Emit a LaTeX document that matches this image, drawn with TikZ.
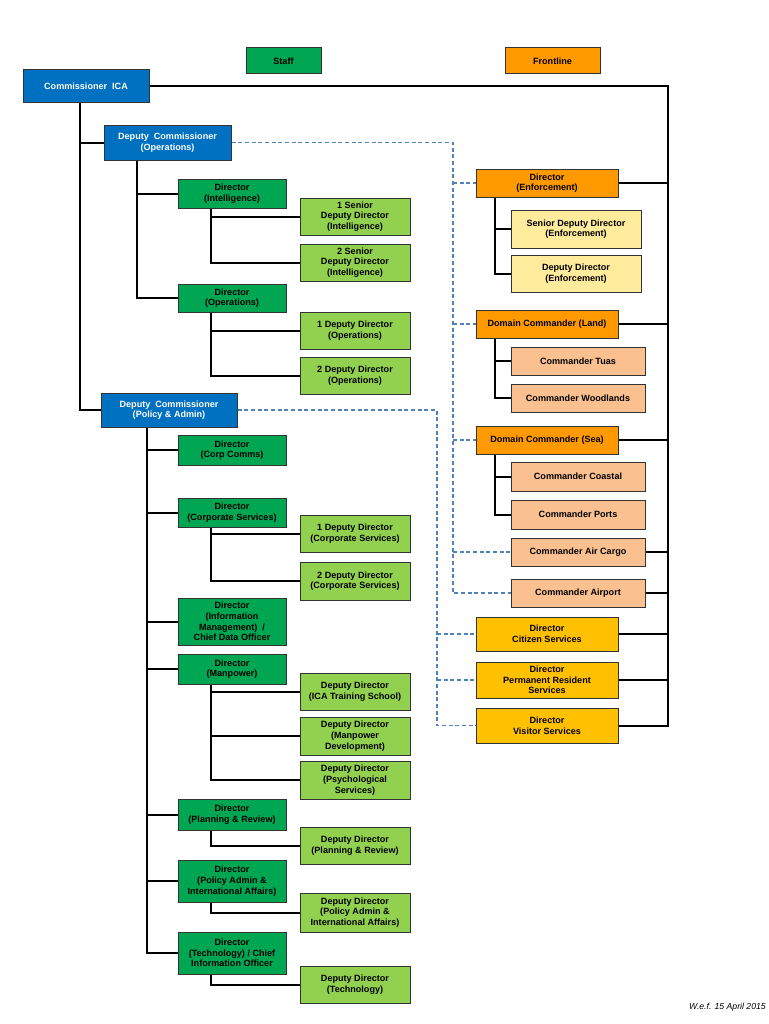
\documentclass[tikz,border=0pt]{standalone}
\usepackage{fontspec}
\setmainfont{Liberation Sans}
\definecolor{cblue}{HTML}{0070C0}
\definecolor{dgreen}{HTML}{00A651}
\definecolor{lgreen}{HTML}{92D050}
\definecolor{orng}{HTML}{FF9900}
\definecolor{lyel}{HTML}{FFEB9C}
\definecolor{peach}{HTML}{FAC090}
\definecolor{gold}{HTML}{FFC000}
\definecolor{dashc}{HTML}{4F81BD}
\newcommand\bx[7]{\node[box,#6,minimum width={(#4-#2)*0.75pt},minimum height={(#5-#3)*0.75pt}] (#1) at ({(#2+#4)/2},{(#3+#5)/2}) {#7};}
\begin{document}
\begin{tikzpicture}[x=0.75pt,y=-0.75pt,
  box/.style={draw=black!80,line width=0.75pt,align=center,inner sep=1pt,font=\fontsize{6.8}{8}\selectfont\bfseries},
  bl/.style={fill=cblue,text=white},
  dg/.style={fill=dgreen},
  lg/.style={fill=lgreen},
  og/.style={fill=orng},
  ly/.style={fill=lyel},
  pc/.style={fill=peach},
  gd/.style={fill=gold},
  ln/.style={line width=1.5pt,black},
  dl/.style={dashc,line width=0.9pt,dash pattern=on 3pt off 2pt}]
\useasboundingbox[fill=white] (0,0) rectangle (768,1024);
% legend
\bx{staff}{246}{48}{321}{74}{dg}{Staff}
\bx{front}{505}{48}{600}{74}{og}{Frontline}
% top
\bx{com}{23}{70}{149}{102}{bl}{Commissioner\ \ ICA}
\bx{dco}{104}{125}{231}{160}{bl}{Deputy\ \ Commissioner\\(Operations)}
\bx{dcp}{101}{393}{237}{427}{bl}{Deputy\ \ Commissioner\\(Policy \& Admin)}
% operations
\bx{din}{178}{179}{286}{208}{dg}{Director\\(Intelligence)}
\bx{sdd1}{300}{198}{410}{235}{lg}{1 Senior\\Deputy Director\\(Intelligence)}
\bx{sdd2}{300}{244}{410}{281}{lg}{2 Senior\\Deputy Director\\(Intelligence)}
\bx{dop}{178}{284}{286}{312}{dg}{Director\\(Operations)}
\bx{ddo1}{300}{312}{410}{349}{lg}{1 Deputy Director\\(Operations)}
\bx{ddo2}{300}{357}{410}{394}{lg}{2 Deputy Director\\(Operations)}
% policy
\bx{dcc}{178}{435}{286}{465}{dg}{Director\\(Corp Comms)}
\bx{dcs}{178}{498}{286}{527}{dg}{Director\\(Corporate Services)}
\bx{ddc1}{300}{515}{410}{552}{lg}{1 Deputy Director\\(Corporate Services)}
\bx{ddc2}{300}{562}{410}{600}{lg}{2 Deputy Director\\(Corporate Services)}
\bx{dim}{178}{598}{286}{645}{dg}{Director\\(Information\\Management)\ \ /\\Chief Data Officer}
\bx{dmp}{178}{654}{286}{684}{dg}{Director\\(Manpower)}
\bx{ddm1}{300}{673}{410}{710}{lg}{Deputy Director\\(ICA Training School)}
\bx{ddm2}{300}{717}{410}{755}{lg}{Deputy Director\\(Manpower\\Development)}
\bx{ddm3}{300}{761}{410}{799}{lg}{Deputy Director\\(Psychological\\Services)}
\bx{dpl}{178}{799}{286}{830}{dg}{Director\\(Planning \& Review)}
\bx{ddpl}{300}{827}{410}{864}{lg}{Deputy Director\\(Planning \& Review)}
\bx{dpa}{178}{860}{286}{902}{dg}{Director\\(Policy Admin \&\\International Affairs)}
\bx{ddpa}{300}{893}{410}{932}{lg}{Deputy Director\\(Policy Admin \&\\International Affairs)}
\bx{dte}{178}{932}{286}{974}{dg}{Director\\(Technology) / Chief\\Information Officer}
\bx{ddte}{300}{966}{410}{1003}{lg}{Deputy Director\\(Technology)}
% frontline
\bx{enf}{476}{169}{618}{197}{og}{Director\\(Enforcement)}
\bx{sde}{511}{210}{641}{248}{ly}{Senior Deputy Director\\(Enforcement)}
\bx{dde}{511}{255}{641}{292}{ly}{Deputy Director\\(Enforcement)}
\bx{land}{476}{310}{618}{338}{og}{Domain Commander (Land)}
\bx{tuas}{511}{347}{645}{375}{pc}{Commander Tuas}
\bx{wood}{511}{384}{645}{412}{pc}{Commander Woodlands}
\bx{sea}{476}{426}{618}{454}{og}{Domain Commander (Sea)}
\bx{coast}{511}{462}{645}{491}{pc}{Commander Coastal}
\bx{ports}{511}{500}{645}{529}{pc}{Commander Ports}
\bx{air}{511}{538}{645}{566}{pc}{Commander Air Cargo}
\bx{apt}{511}{579}{645}{607}{pc}{Commander Airport}
\bx{cit}{476}{617}{618}{651}{gd}{Director\\Citizen Services}
\bx{pr}{476}{662}{618}{698}{gd}{Director\\Permanent Resident\\Services}
\bx{vis}{476}{708}{618}{743}{gd}{Director\\Visitor Services}
% trunk coordinates
\coordinate (T0) at (80,0);
\coordinate (T1) at (137,0);
\coordinate (T2) at (147,0);
\coordinate (S) at (211,0);
\coordinate (E) at (495,0);
\coordinate (R) at (668,0);
\coordinate (D1) at (453,0);
\coordinate (D2) at (437,0);
% commissioner
\draw[ln] (T0 |- com.south) -- (T0 |- dcp.west) -- (dcp.west);
\draw[ln] (T0 |- dco.west) -- (dco.west);
% DC ops
\draw[ln] (T1 |- dco.south) -- (T1 |- dop.west) -- (dop.west);
\draw[ln] (T1 |- din.west) -- (din.west);
\draw[ln] (S |- din.south) |- (sdd2.west);
\draw[ln] (S |- sdd1.west) -- (sdd1.west);
\draw[ln] (S |- dop.south) |- (ddo2.west);
\draw[ln] (S |- ddo1.west) -- (ddo1.west);
% DC policy
\draw[ln] (T2 |- dcp.south) |- (dte.west);
\foreach \n in {dcc,dcs,dim,dmp,dpl,dpa} \draw[ln] (T2 |- \n.west) -- (\n.west);
\draw[ln] (S |- dcs.south) |- (ddc2.west);
\draw[ln] (S |- ddc1.west) -- (ddc1.west);
\draw[ln] (S |- dmp.south) |- (ddm3.west);
\draw[ln] (S |- ddm1.west) -- (ddm1.west);
\draw[ln] (S |- ddm2.west) -- (ddm2.west);
\draw[ln] (S |- dpl.south) |- (ddpl.west);
\draw[ln] (S |- dpa.south) |- (ddpa.west);
\draw[ln] (S |- dte.south) |- (ddte.west);
% frontline subordinates
\draw[ln] (E |- enf.south) |- (dde.west);
\draw[ln] (E |- sde.west) -- (sde.west);
\draw[ln] (E |- land.south) |- (wood.west);
\draw[ln] (E |- tuas.west) -- (tuas.west);
\draw[ln] (E |- sea.south) |- (ports.west);
\draw[ln] (E |- coast.west) -- (coast.west);
% right line
\draw[ln] (com.east) -| (R |- vis.east) -- (vis.east);
\foreach \n in {enf,land,sea,air,apt,cit,pr} \draw[ln] (\n.east) -- (R |- \n.east);
% dashed
\draw[dl] (dco.east) -| (D1 |- apt.west) -- (apt.west);
\foreach \n in {enf,land,sea,air} \draw[dl] (D1 |- \n.west) -- (\n.west);
\draw[dl] (dcp.east) -| (D2 |- vis.west) -- (vis.west);
\foreach \n in {cit,pr} \draw[dl] (D2 |- \n.west) -- (\n.west);
\node[anchor=east,font=\fontsize{6.5}{8}\selectfont\itshape,inner sep=0pt] (wef) at (766,1007) {W.e.f. 15 April 2015};
\end{tikzpicture}
\end{document}
